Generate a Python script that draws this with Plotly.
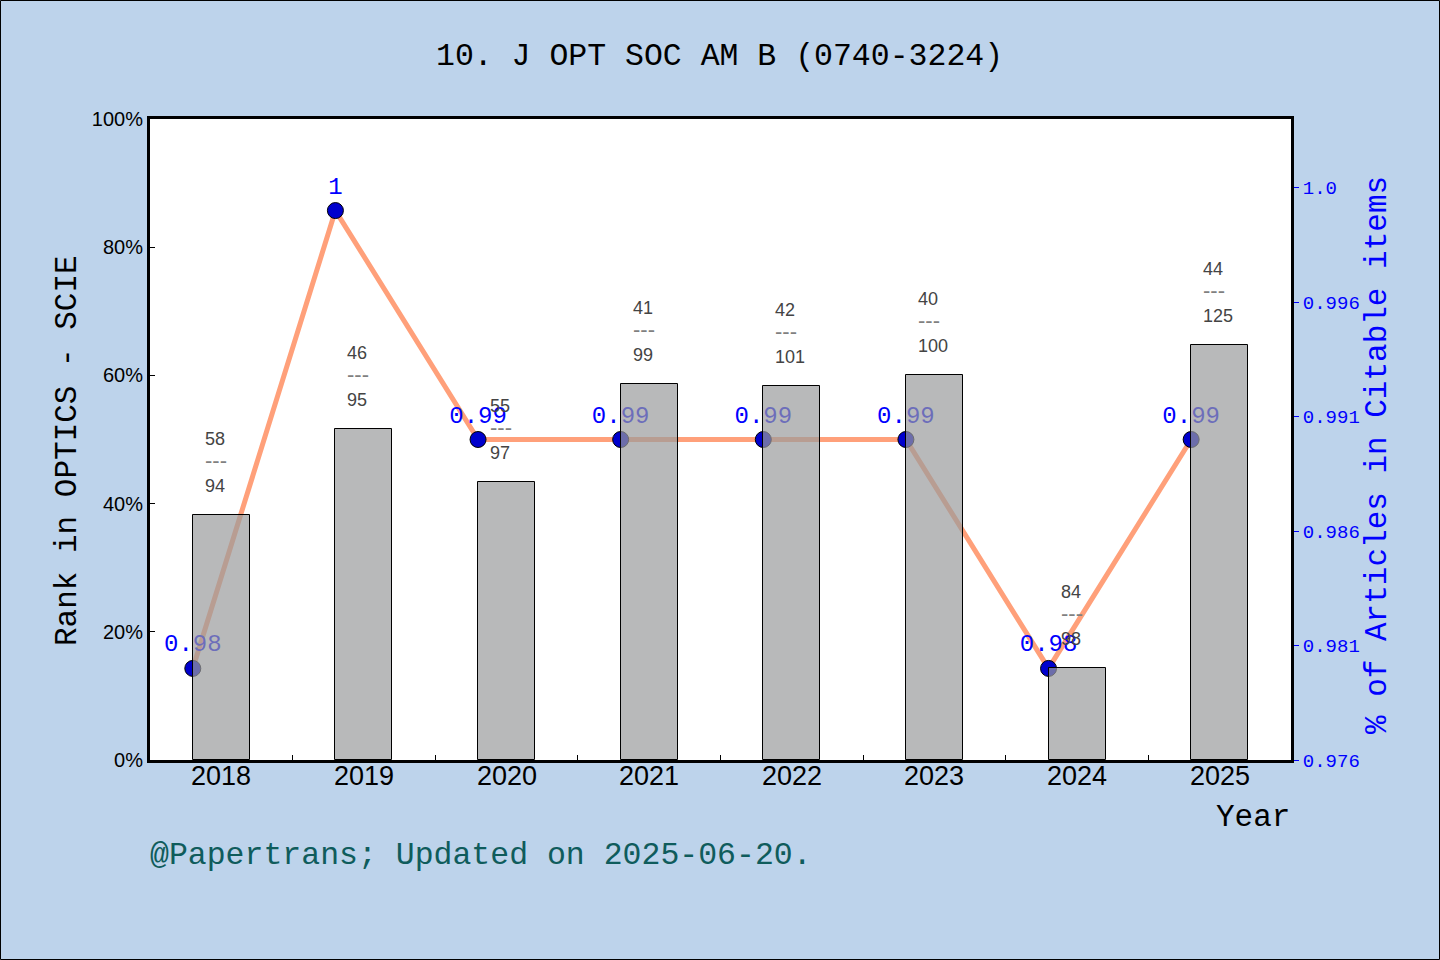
import plotly.graph_objects as go

# ---------------- data ----------------
years = ["2018", "2019", "2020", "2021", "2022", "2023", "2024", "2025"]
rank = [58, 46, 55, 41, 42, 40, 84, 44]
total = [94, 95, 97, 99, 101, 100, 98, 125]
citable_ratio = [0.98, 1.0, 0.99, 0.99, 0.99, 0.99, 0.98, 0.99]
ratio_labels = ["0.98", "1", "0.99", "0.99", "0.99", "0.99", "0.98", "0.99"]
left_tickvals = [0, 0.2, 0.4, 0.6, 0.8, 1.0]
right_tickvals = [0.976, 0.981, 0.986, 0.991, 0.996, 1.001]
right_ticktext = ["0.976", "0.981", "0.986", "0.991", "0.996", "1.0"]
title_text = "10. J OPT SOC AM B (0740-3224)"
footer_text = "@Papertrans; Updated on 2025-06-20."

# ---------------- layout geometry ----------------
W, H = 1440, 960
ML, MR, MT, MB = 150, 149, 119, 200
PW, PH = W - ML - MR, H - MT - MB
BAR_W = 0.4

def px_x(p):
    return (p - ML) / PW

def px_y(p):
    return (H - MB - p) / PH

idx = list(range(len(years)))
bar_vals = [1 - r / t for r, t in zip(rank, total)]
line_x = [i - BAR_W / 2 for i in idx]

MONO = "Liberation Mono, DejaVu Sans Mono, monospace"
SANS = "Liberation Sans, Arial, sans-serif"
NARROW = "Liberation Sans Narrow, Liberation Sans, Arial, sans-serif"

fig = go.Figure()

# line on the primary (right-side) axis -> drawn beneath the bars
fig.add_trace(go.Scatter(
    x=line_x, y=citable_ratio, mode="lines+markers+text",
    text=ratio_labels, textposition="top center",
    textfont=dict(family=MONO, size=24, color="#0000ff"),
    line=dict(color="#ffa07a", width=5),
    marker=dict(size=16, color="#0000cd", line=dict(color="black", width=1)),
    yaxis="y", xaxis="x", showlegend=False, cliponaxis=False,
))

# bars on the overlaying (left-side) axis -> drawn on top
fig.add_trace(go.Bar(
    x=idx, y=bar_vals, width=BAR_W,
    marker=dict(color="rgba(154,155,157,0.7)", line=dict(color="black", width=1)),
    yaxis="y2", xaxis="x", showlegend=False,
))

annotations = []
for i, (v, r, t) in enumerate(zip(bar_vals, rank, total)):
    annotations.append(dict(
        x=i - 0.13, y=v, xref="x", yref="y2",
        xanchor="left", yanchor="bottom", yshift=17, showarrow=False,
        align="left",
        text=(f"{r}<br><span style='color:#808080;font-size:22px'>---</span>"
              f"<br>{t}"),
        font=dict(family=SANS, size=18, color="#444444"),
    ))

# x tick labels (years), placed on the category positions
for i, yr in zip(idx, years):
    annotations.append(dict(
        x=i, y=0, xref="x", yref="paper", xanchor="center", yanchor="middle",
        yshift=-16, showarrow=False, text=yr,
        font=dict(family=SANS, size=27, color="black"),
    ))

# axis titles, year label, footer, title
annotations += [
    dict(text="Rank in OPTICS - SCIE", xref="paper", yref="paper",
         x=px_x(67), y=px_y(451), xanchor="center", yanchor="middle",
         textangle=-90, showarrow=False,
         font=dict(family=MONO, size=31, color="black")),
    dict(text="% of Articles in Citable items", xref="paper", yref="paper",
         x=px_x(1377), y=px_y(455), xanchor="center", yanchor="middle",
         textangle=-90, showarrow=False,
         font=dict(family=MONO, size=31, color="#0000ff")),
    dict(text="Year", xref="paper", yref="paper",
         x=px_x(1292), y=px_y(817), xanchor="right", yanchor="middle",
         showarrow=False, font=dict(family=MONO, size=31, color="black")),
    dict(text=footer_text, xref="paper", yref="paper",
         x=px_x(148), y=px_y(855), xanchor="left", yanchor="middle",
         showarrow=False, font=dict(family=MONO, size=31.5, color="#0f5c5c")),
    dict(text=title_text, xref="paper", yref="paper",
         x=px_x(719), y=px_y(57), xanchor="center", yanchor="middle",
         showarrow=False, font=dict(family=MONO, size=31.5, color="black")),
]

fig.update_layout(
    width=W, height=H, autosize=False,
    margin=dict(l=ML, r=MR, t=MT, b=MB, pad=0),
    paper_bgcolor="#bdd3eb", plot_bgcolor="white",
    bargap=0,
    xaxis=dict(
        range=[-0.5, len(years) - 0.5], tickmode="array", tickvals=idx,
        showticklabels=False, ticks="", showgrid=False, zeroline=False,
        showline=True, linecolor="black", linewidth=3, mirror=True,
        minor=dict(tickmode="array", tickvals=[i + 0.5 for i in idx[:-1]],
                   ticks="inside", ticklen=5, tickwidth=1, tickcolor="black",
                   showgrid=False),
    ),
    yaxis=dict(
        side="right", range=[0.976, 1.004], tickmode="array",
        tickvals=right_tickvals, ticktext=right_ticktext,
        ticks="outside", ticklen=5, tickwidth=1, tickcolor="#0000ff",
        tickfont=dict(family=MONO, size=19, color="#0000ff"),
        showgrid=False, zeroline=False,
        showline=True, linecolor="black", linewidth=3,
    ),
    yaxis2=dict(
        overlaying="y", side="left", range=[0, 1], tickmode="array",
        tickvals=left_tickvals, tickformat=".0%",
        ticks="inside", ticklen=5, tickwidth=1, tickcolor="black",
        tickfont=dict(family=NARROW, size=20, color="black"),
        showgrid=False, zeroline=False,
        showline=True, linecolor="black", linewidth=3,
    ),
    annotations=annotations,
    shapes=[dict(
        type="rect", xref="paper", yref="paper", layer="above",
        x0=px_x(0.5), x1=px_x(W - 0.5), y0=px_y(H - 0.5), y1=px_y(0.5),
        line=dict(color="black", width=1), fillcolor="rgba(0,0,0,0)",
    )],
)

fig.write_html("out.html")
